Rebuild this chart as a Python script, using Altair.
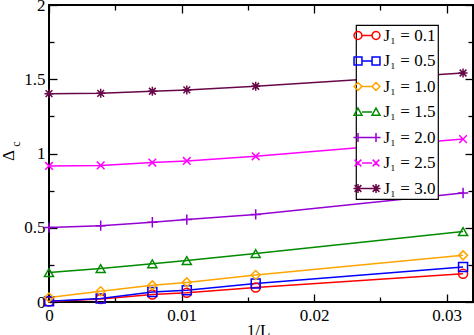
import altair as alt
import pandas as pd

# ---- data ----
inv_L = [0.0, 0.0039, 0.0078, 0.0104, 0.0156, 0.03125]
labels = ["J₁ = 0.1", "J₁ = 0.5", "J₁ = 1.0", "J₁ = 1.5", "J₁ = 2.0", "J₁ = 2.5", "J₁ = 3.0"]
J01 = [0.003, 0.020, 0.050, 0.062, 0.097, 0.190]
J05 = [0.005, 0.023, 0.067, 0.079, 0.124, 0.236]
J10 = [0.030, 0.072, 0.112, 0.132, 0.182, 0.314]
J15 = [0.198, 0.225, 0.257, 0.279, 0.326, 0.474]
J20 = [0.501, 0.514, 0.537, 0.555, 0.590, 0.734]
J25 = [0.916, 0.920, 0.939, 0.950, 0.981, 1.097]
J30 = [1.403, 1.405, 1.419, 1.428, 1.453, 1.542]
series = [J01, J05, J10, J15, J20, J25, J30]

x_major = [0.0, 0.01, 0.02, 0.03]
x_minor = [0.005, 0.015, 0.025]
y_major = [0.0, 0.5, 1.0, 1.5, 2.0]
y_minor = [0.25, 0.75, 1.25, 1.75]

colors = ["#ff0000", "#0000ff", "#ffa500", "#008b00", "#9400d3", "#ff00ff", "#670748"]

rows = []
for lab, vals in zip(labels, series):
    for xv, yv in zip(inv_L, vals):
        rows.append({"invL": xv, "delta": yv, "J": lab})
df = pd.DataFrame(rows)

FONT = "Liberation Serif"

marker_shapes = [
    "circle",
    "square",
    "diamond",
    "triangle-up",
    "M-1.15,0L1.15,0M0,-1.15L0,1.15",
    "M-0.85,-0.85L0.85,0.85M-0.85,0.85L0.85,-0.85",
    "M-1,0L1,0M0,-1L0,1M-0.75,-0.75L0.75,0.75M-0.75,0.75L0.75,-0.75",
]

a = 0.88
c = 2.0


def circ(cx):
    return f"M{cx - a},0A{a},{a} 0 1,1 {cx + a},0A{a},{a} 0 1,1 {cx - a},0"


def sq(cx):
    return f"M{cx - a},{-a}L{cx + a},{-a}L{cx + a},{a}L{cx - a},{a}Z"


def dia(cx):
    return f"M{cx - a},0L{cx},{-a}L{cx + a},0L{cx},{a}Z"


def tri(cx):
    return f"M{cx},{-a}L{cx + a},{0.8 * a}L{cx - a},{0.8 * a}Z"


def plus(cx):
    b = a * 1.15
    return f"M{cx - b},0L{cx + b},0M{cx},{-b}L{cx},{b}"


def ex(cx):
    b = a * 0.85
    return f"M{cx - b},{-b}L{cx + b},{b}M{cx - b},{b}L{cx + b},{-b}"


def conn():
    return f"M{-c + a},0L{c - a},0"


legend_shapes = [
    circ(-c) + conn() + circ(c),
    sq(-c) + conn() + sq(c),
    dia(-c) + conn() + dia(c),
    tri(-c) + conn() + tri(c),
    plus(-c) + conn() + plus(c),
    ex(-c) + conn() + ex(c),
    plus(-c) + ex(-c) + conn() + plus(c) + ex(c),
]

xscale = alt.Scale(domain=[0, 0.032], nice=False, zero=False)
yscale = alt.Scale(domain=[0, 2], nice=False, zero=False)
cscale = alt.Scale(domain=labels, range=colors)

MAJ = {"expr": "-8"}
MIN = {"expr": "-5"}


def ax(orient, values, size, show_labels=False, **kw):
    return alt.Axis(
        orient=orient, values=values, tickSize=size, tickColor="black", tickWidth=1.3,
        domain=False, grid=False, labels=show_labels, **kw
    )


x_bottom_major = ax(
    "bottom", x_major, MAJ, True,
    labelExpr="toString(datum.value)", labelFont=FONT, labelFontSize=17, labelColor="black",
    labelPadding=13, labelFlush=False, labelOverlap=False, labelBound=False,
    title="1/L", titleFont=FONT, titleFontSize=17, titleFontWeight="normal", titleColor="black",
    titleX=209, titleY=20, titleBaseline="top", titleAlign="center",
)
y_left_major = ax(
    "left", y_major, MAJ, True,
    labelExpr="toString(datum.value)", labelFont=FONT, labelFontSize=17, labelColor="black",
    labelPadding=12, labelFlush=False, labelOverlap=False, labelBound=False,
    title="Δ", titleFont=FONT, titleFontSize=17, titleFontWeight="normal", titleColor="black",
    titleAngle=270, titleX=-35.5, titleY=150, titleBaseline="alphabetic", titleAlign="center",
)

base = alt.Chart(df)

lines = base.mark_line(strokeWidth=1.5).encode(
    x=alt.X("invL:Q", scale=xscale, axis=x_bottom_major),
    y=alt.Y("delta:Q", scale=yscale, axis=y_left_major),
    color=alt.Color("J:N", scale=cscale, legend=None),
    detail="J:N",
)

points = base.mark_point(filled=False, opacity=1, size=81, strokeWidth=1.5).encode(
    x=alt.X("invL:Q", scale=xscale, axis=ax("bottom", x_minor, MIN, title=None)),
    y=alt.Y("delta:Q", scale=yscale, axis=ax("left", y_minor, MIN, title=None)),
    color=alt.Color("J:N", scale=cscale, legend=None),
    shape=alt.Shape("J:N", scale=alt.Scale(domain=labels, range=marker_shapes), legend=None),
)

mirror_major = base.mark_point(opacity=0).encode(
    x=alt.X("invL:Q", scale=xscale, axis=ax("top", x_major, MAJ, title=None)),
    y=alt.Y("delta:Q", scale=yscale, axis=ax("right", y_major, MAJ, title=None)),
)
mirror_minor = base.mark_point(opacity=0).encode(
    x=alt.X("invL:Q", scale=xscale, axis=ax("top", x_minor, MIN, title=None)),
    y=alt.Y("delta:Q", scale=yscale, axis=ax("right", y_minor, MIN, title=None)),
)

leg = alt.Legend(
    title=None, orient="none", legendX=307, legendY=20,
    labelFont=FONT, labelFontSize=17, labelColor="black",
    symbolSize=81, symbolStrokeWidth=1.5, symbolOffset=0.5, labelOffset=8,
    rowPadding=7.5, padding=2, strokeColor="black", fillColor="white",
)
legend_layer = base.mark_point(filled=False, opacity=1, strokeWidth=1.5).encode(
    x=alt.X("invL:Q", scale=xscale, axis=None),
    y=alt.Y("delta:Q", scale=yscale, axis=None),
    color=alt.Color("J:N", scale=cscale, legend=leg),
    shape=alt.Shape("J:N", scale=alt.Scale(domain=labels, range=legend_shapes), legend=leg),
).transform_filter("false")

sub_c = alt.Chart(pd.DataFrame({"t": ["c"]})).mark_text(
    font=FONT, fontSize=12, angle=270, align="center", baseline="alphabetic", color="black"
).encode(x=alt.value(-29.5), y=alt.value(139), text="t:N")

chart = (
    alt.layer(lines, points, mirror_major, mirror_minor, legend_layer, sub_c)
    .resolve_scale(color="independent", shape="independent")
    .resolve_axis(x="independent", y="independent")
    .properties(
        width=424, height=297,
        autosize=alt.AutoSizeParams(type="none"),
        padding={"left": 49, "top": 5, "right": 1, "bottom": 33},
        background="white",
    )
    .configure_view(stroke="black", strokeWidth=2)
    .configure_legend(strokeWidth=1.2, cornerRadius=0)
)

chart.save("out.html", embed_options={"renderer": "svg", "actions": False})
